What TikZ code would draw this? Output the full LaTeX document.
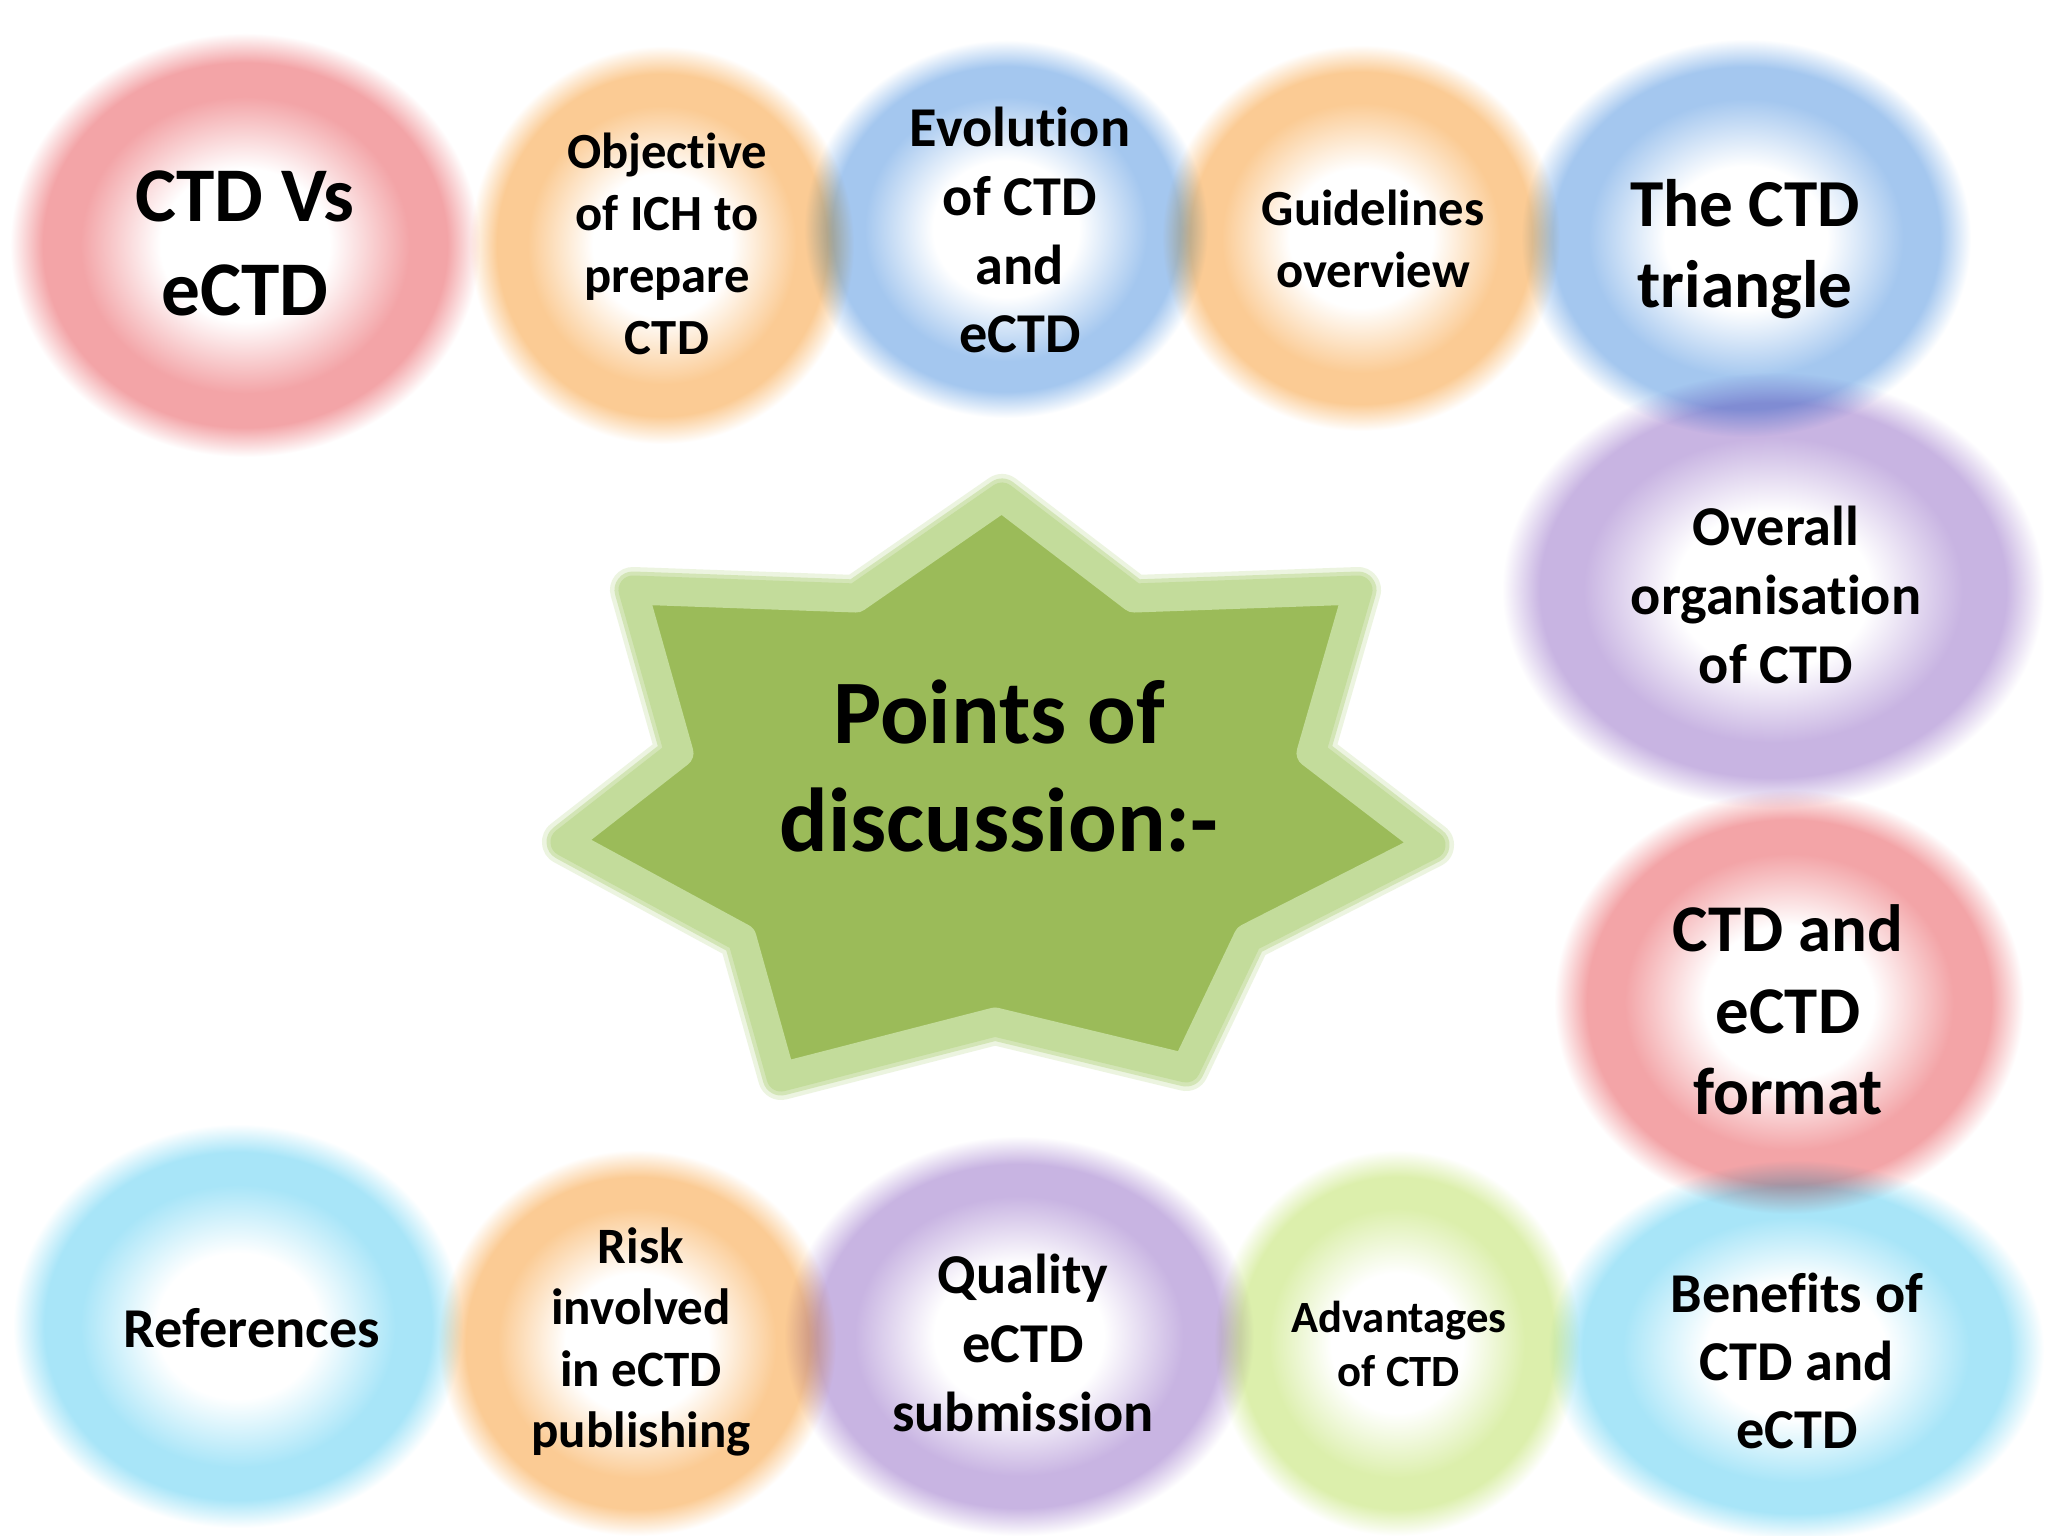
\documentclass[tikz,border=0pt]{standalone}
\usepackage{fontspec}
\setmainfont{Carlito}[Ligatures=NoCommon]
\definecolor{cred}{HTML}{F3A4A7}
\definecolor{corange}{HTML}{FBCB94}
\definecolor{cblue}{HTML}{A4C7EF}
\definecolor{cpurple}{HTML}{C8B4E2}
\definecolor{ccyan}{HTML}{A8E5F8}
\definecolor{cgreen}{HTML}{DCEFAC}
\definecolor{stardark}{HTML}{9BBB59}
\definecolor{starlight}{HTML}{C3DC9B}
\newcommand{\ringshading}[2]{%
  \pgfdeclareradialshading{#1}{\pgfpoint{0bp}{0bp}}{color(0bp)=(white);color(9bp)=(white);color(17.5bp)=(#2);color(21.5bp)=(#2);color(25bp)=(white);color(50bp)=(white)}}
\ringshading{ringred}{cred}
\ringshading{ringorange}{corange}
\ringshading{ringblue}{cblue}
\ringshading{ringpurple}{cpurple}
\ringshading{ringcyan}{ccyan}
\ringshading{ringgreen}{cgreen}
\tikzset{
  lbl/.style={align=center, inner sep=0pt, text=black},
  starpath/.style={line join=round},
}
\newcommand{\fs}[2]{\bfseries\fontsize{#1}{#2}\selectfont}
\newcommand{\starshape}{%
  (1002,497) -- (1134,598) -- (1358,590) -- (1311,753) -- (1431,845) -- (1248,938)
  -- (1186,1068) -- (995,1022) -- (781,1077) -- (742,938) -- (565,842) -- (679,753)
  -- (633,590) -- (856,598) -- cycle}
\begin{document}
\begin{tikzpicture}[x=0.01cm, y=-0.01cm]
\fill[white] (0,0) rectangle (2048,1536);
\useasboundingbox (0,0) rectangle (2048,1536);
% star with soft edge
\path[starpath, draw=starlight, opacity=0.3, line width=0.46cm] \starshape;
\path[starpath, draw=starlight, opacity=0.6, line width=0.37cm] \starshape;
\path[starpath, fill=stardark, draw=starlight, line width=0.29cm] \starshape;
% rings
\begin{scope}[blend mode=multiply]
\shade[shading=ringred]    (245,245)   ellipse [x radius=235, y radius=212];
\shade[shading=ringorange] (662,245)   ellipse [x radius=192, y radius=199];
\shade[shading=ringblue]   (1006,229)  ellipse [x radius=202, y radius=189];
\shade[shading=ringorange] (1361,238)  ellipse [x radius=199, y radius=193];
\shade[shading=ringblue]   (1746,238)  ellipse [x radius=225, y radius=199];
\shade[shading=ringpurple] (1773,590)  ellipse [x radius=271, y radius=218];
\shade[shading=ringred]    (1789,1002) ellipse [x radius=235, y radius=212];
\shade[shading=ringcyan]   (1796,1350) ellipse [x radius=248, y radius=190];
\shade[shading=ringgreen]  (1397,1343) ellipse [x radius=183, y radius=193];
\shade[shading=ringpurple] (1019,1336) ellipse [x radius=235, y radius=200];
\shade[shading=ringorange] (637,1343)  ellipse [x radius=199, y radius=193];
\shade[shading=ringcyan]   (238,1326)  ellipse [x radius=225, y radius=202];
\end{scope}
% labels
\node[lbl, font=\fs{22}{26.7}]     (t1)  at (245,243)  {CTD Vs\\eCTD};
\node[lbl, font=\fs{14.4}{17.6}]   (t2)  at (667,244)  {Objective\\of ICH to\\prepare\\CTD};
\node[lbl, font=\fs{16}{19.6}]     (t3)  at (1020,230) {Evolution\\of CTD\\and\\eCTD};
\node[lbl, font=\fs{14.4}{17.8}]   (t4)  at (1373,239) {Guidelines\\overview};
\node[lbl, font=\fs{19.1}{23}]     (t5)  at (1745,249) {The CTD\\triangle};
\node[lbl, font=\fs{16}{19.5}]     (t6)  at (1776,595) {Overall\\organisation\\of CTD};
\node[lbl, font=\fs{19}{23.2}]     (t7)  at (1788,1010) {CTD and\\eCTD\\format};
\node[lbl, font=\fs{16}{19.3}]     (t8)  at (1797,1361) {Benefits of\\CTD and\\eCTD};
\node[lbl, font=\fs{12.7}{15.6}]   (t9)  at (1399,1344) {Advantages\\of CTD};
\node[lbl, font=\fs{16}{19.5}]     (t10) at (1023,1343) {Quality\\eCTD\\submission};
\node[lbl, font=\fs{14.5}{17.5}]   (t11) at (641,1342)  {Risk\\involved\\in eCTD\\publishing};
\node[lbl, font=\fs{16}{19.5}]     (t12) at (252,1328)  {References};
\node[lbl, font=\fs{25.8}{30.8}]   (t13) at (999,766)   {Points of\\discussion:-};
\end{tikzpicture}
\end{document}
